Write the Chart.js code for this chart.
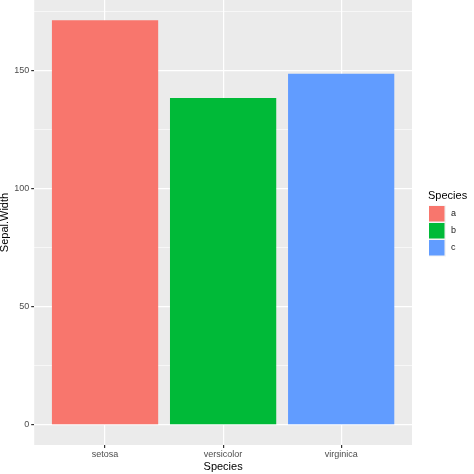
<!DOCTYPE html>
<html>
<head>
<meta charset="utf-8">
<script src="https://cdn.jsdelivr.net/npm/chart.js@4.4.1/dist/chart.umd.min.js"></script>
<style>
  html, body { margin: 0; padding: 0; background: #fff; }
  #wrap { width: 474px; height: 474px; }
</style>
</head>
<body>
<div id="wrap"><canvas id="chart"></canvas></div>
<script>
// data (sum of Sepal.Width by species)
const species = ['setosa', 'versicolor', 'virginica'];
const sepalWidthSum = [171.4, 138.5, 148.7];
const legendLabels = ['a', 'b', 'c'];
const barColors = ['#F8766D', '#00BA38', '#619CFF'];
const yTicks = [0, 25, 50, 75, 100, 125, 150, 175];
const yMajor = [0, 50, 100, 150];

const FONT = "'Liberation Sans', Arial, sans-serif";

// grey panel behind the plot, ggplot style
const panelBg = {
  id: 'panelBg',
  beforeDraw(chart) {
    const { ctx, chartArea: a } = chart;
    ctx.save();
    ctx.fillStyle = '#EBEBEB';
    ctx.fillRect(a.left, a.top, a.right - a.left, a.bottom - a.top);
    ctx.restore();
  }
};

// ggplot-like legend at the right, left aligned title, touching keys
const sideLegend = {
  id: 'sideLegend',
  afterDraw(chart) {
    const { ctx, chartArea: a } = chart;
    const x0 = a.right + 17;
    const key = 17;
    const keysTop = (a.top + a.bottom) / 2 - 17;
    ctx.save();
    ctx.textBaseline = 'alphabetic';
    ctx.textAlign = 'left';
    ctx.fillStyle = '#000';
    ctx.font = '11px ' + FONT;
    ctx.fillText('Species', x0 - 1, keysTop - 7);
    ctx.font = '9px ' + FONT;
    legendLabels.forEach((t, i) => {
      const y = keysTop + i * key;
      ctx.fillStyle = '#F2F2F2';
      ctx.fillRect(x0, y, key, key);
      ctx.fillStyle = barColors[i];
      ctx.fillRect(x0, y + 0.5, key - 1.5, key - 1.5);
      ctx.fillStyle = '#1A1A1A';
      ctx.textBaseline = 'middle';
      ctx.fillText(t, x0 + key + 5, y + key / 2);
    });
    ctx.restore();
  }
};

const isMajor = (v) => yMajor.includes(v);

new Chart(document.getElementById('chart'), {
  type: 'bar',
  data: {
    datasets: [{
      label: 'Species',
      data: species.map((s, i) => ({ x: i + 1, y: sepalWidthSum[i] })),
      backgroundColor: barColors,
      borderWidth: 0,
      barPercentage: 0.9,
      categoryPercentage: 1
    }]
  },
  options: {
    responsive: true,
    maintainAspectRatio: false,
    animation: false,
    layout: { padding: { top: 0, right: 62, left: -2, bottom: 0 } },
    plugins: {
      tooltip: { enabled: false },
      legend: { display: false }
    },
    scales: {
      x: {
        type: 'linear',
        min: 0.4,
        max: 3.6,
        offset: false,
        afterBuildTicks: (s) => { s.ticks = species.map((_, i) => ({ value: i + 1 })); },
        afterFit: (s) => { s.paddingLeft = 0; s.paddingRight = 0; },
        ticks: {
          autoSkip: false,
          maxRotation: 0,
          color: '#4D4D4D',
          font: { family: FONT, size: 9 },
          padding: 1,
          callback: (v) => species[v - 1]
        },
        grid: { offset: false, color: '#fff', lineWidth: 1.2, tickColor: '#333', tickLength: 3 },
        border: { display: false },
        title: { display: true, text: 'Species', color: '#000', font: { family: FONT, size: 11 }, padding: { top: 0, bottom: 0 } }
      },
      y: {
        min: -8.57,
        max: 180,
        afterBuildTicks: (s) => { s.ticks = yTicks.map(v => ({ value: v })); },
        afterFit: (s) => { s.paddingTop = 0; s.paddingBottom = 0; },
        ticks: {
          autoSkip: false,
          color: '#4D4D4D',
          font: { family: FONT, size: 9 },
          padding: 2,
          callback: (v) => isMajor(v) ? v : ''
        },
        grid: {
          color: '#fff',
          lineWidth: (c) => isMajor(c.tick.value) ? 1.2 : 0.6,
          tickColor: (c) => isMajor(c.tick.value) ? '#333' : 'rgba(0,0,0,0)',
          tickLength: 3
        },
        border: { display: false },
        title: { display: true, text: 'Sepal.Width', color: '#000', font: { family: FONT, size: 11 }, padding: { top: 0, bottom: 1 } }
      }
    }
  },
  plugins: [panelBg, sideLegend]
});
</script>
</body>
</html>
